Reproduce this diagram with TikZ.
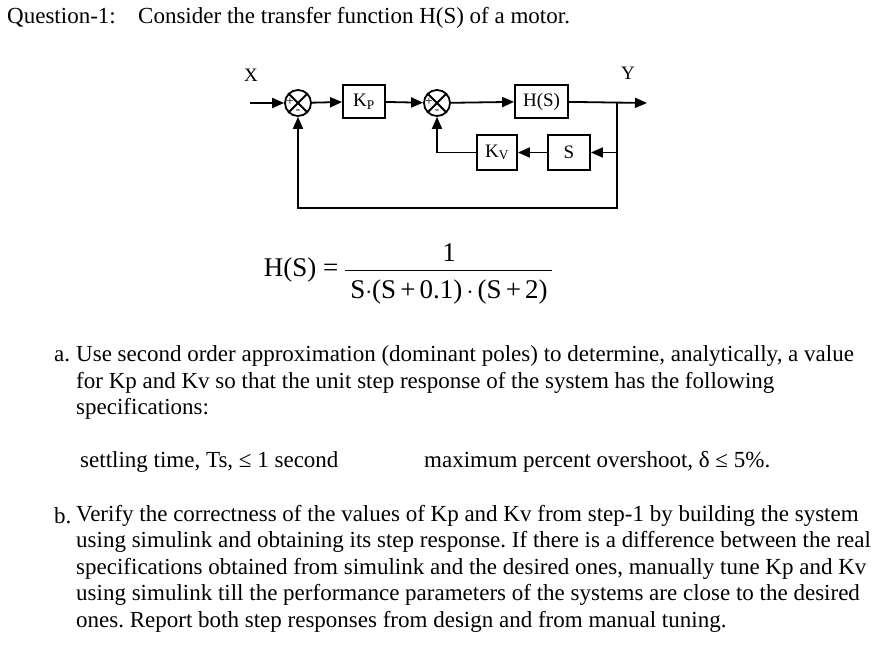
\documentclass[tikz,border=0pt]{standalone}
\usepackage{fontspec}
\setmainfont{Liberation Serif}
\usetikzlibrary{arrows.meta}
\begin{document}
\frenchspacing
\begin{tikzpicture}[x=1pt,y=-1pt,
  blk/.style={draw,line width=1.8pt,minimum width=#1,minimum height=33pt,inner sep=0pt,font=\fontsize{19}{21}\selectfont},
  sumj/.style={draw,circle,line width=1.8pt,minimum size=26pt,inner sep=0pt},
  sig/.style={line width=1.8pt,-{Triangle[length=12pt,width=10pt]}},
  txt/.style={anchor=west,inner sep=0pt,font=\fontsize{23}{26}\selectfont}]
\useasboundingbox (0,0) rectangle (894,663);
% diagram
\node[sumj] (s1) at (298,103) {};
\draw[line width=1.8pt] (s1.north west)--(s1.south east) (s1.north east)--(s1.south west);
\node[font=\fontsize{13}{13}\selectfont,inner sep=0pt] at (290,102) {+};
\node[font=\fontsize{13}{13}\selectfont,inner sep=0pt] at (298,112) {-};
\node[sumj] (s2) at (437,103) {};
\draw[line width=1.8pt] (s2.north west)--(s2.south east) (s2.north east)--(s2.south west);
\node[font=\fontsize{13}{13}\selectfont,inner sep=0pt] at (429,102) {+};
\node[font=\fontsize{13}{13}\selectfont,inner sep=0pt] at (437,112) {-};
\node[blk=42pt] (kp) at (364,101.5) {K\textsubscript{P}};
\node[blk=53pt] (h) at (541.5,101.5) {H(S)};
\node[blk=42pt,minimum height=35pt] (s) at (569,152.5) {S};
\node[blk=40pt,minimum height=35pt] (kv) at (497,152.5) {K\textsubscript{V}};
\coordinate (xin) at (250,103);
\coordinate (yout) at (647,103);
\coordinate (br) at (617,103);
\node[font=\fontsize{19}{21}\selectfont] (xl) at (251,75) {X};
\node[font=\fontsize{19}{21}\selectfont] (yl) at (628,73) {Y};
\draw[sig] (xin) -- (s1);
\draw[sig] (s1) -- (kp);
\draw[sig] (kp) -- (s2);
\draw[sig] (s2) -- (h);
\draw[sig] (h) -- (yout);
\draw[sig] (br) |- (s);
\draw[sig] (s) -- (kv);
\draw[sig] (kv.west) -| (s2.south);
\draw[sig] (br) |- (298,208) -- (s1.south);
% text
\node[txt] (q) at (7,18) {Question-1:};
\node[txt] (q2) at (138,18) {Consider the transfer function H(S) of a motor.};
\node[inner sep=0pt,font=\fontsize{27}{30}\selectfont] (hs) at (301,270) {H(S) =};
\node[inner sep=0pt,font=\fontsize{27}{30}\selectfont] (num) at (449,253) {1};
\draw[line width=1pt] (345,270) -- (552,270);
\node[inner sep=0pt,font=\fontsize{27}{30}\selectfont] (den) at (449,292) {S$\cdot$(S$\,$+$\,$0.1)$\,\cdot\,$(S$\,$+$\,$2)};
\node[txt] (a) at (54,356) {a.};
\node[txt] (a1) at (76,356) {Use second order approximation (dominant poles) to determine, analytically, a value};
\node[txt] (a2) at (76,383) {for Kp and Kv so that the unit step response of the system has the following};
\node[txt] (a3) at (76,409) {specifications:};
\node[txt] (sp1) at (80,462) {settling time, Ts, ≤ 1 second};
\node[txt] (sp2) at (424,462) {maximum percent overshoot, δ ≤ 5\%.};
\node[txt] (b) at (54,516) {b.};
\node[txt] (b1) at (76,516) {Verify the correctness of the values of Kp and Kv from step-1 by building the system};
\node[txt] (b2) at (76,542) {using simulink and obtaining its step response. If there is a difference between the real};
\node[txt] (b3) at (76,569) {specifications obtained from simulink and the desired ones, manually tune Kp and Kv};
\node[txt] (b4) at (76,595) {using simulink till the performance parameters of the systems are close to the desired};
\node[txt] (b5) at (76,622) {ones. Report both step responses from design and from manual tuning.};
\end{tikzpicture}
\end{document}
